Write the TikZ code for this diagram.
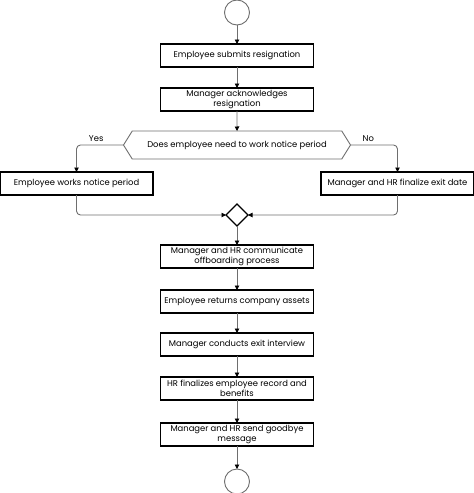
\documentclass[tikz,border=0pt]{standalone}
\usepackage{fontspec}
\setmainfont{Poppins}
\usetikzlibrary{positioning, arrows.meta, shapes.geometric, shapes.symbols}
\definecolor{lineGray}{HTML}{6E6E6E}
\tikzset{
  every node/.style={font=\fontsize{8.4}{9.6}\selectfont},
  flow/.style={draw=lineGray, line width=0.9pt, -{Triangle[black, length=4.5pt, width=4.5pt]}},
  stepbox/.style={draw, line width=1.3pt, minimum width=153pt, minimum height=23pt,
                  inner sep=1.5pt, outer sep=0pt, align=center},
  endpt/.style={draw=lineGray, circle, line width=0.9pt, minimum size=25pt, inner sep=0pt, outer sep=0pt},
  choice/.style={draw=lineGray, line width=0.9pt, signal, signal to=west and east, outer sep=0pt,
                 signal pointer angle=116, minimum width=227pt, minimum height=28pt, inner sep=0pt},
  merge/.style={draw, diamond, line width=1.3pt, minimum width=22pt, minimum height=22pt,
                inner sep=0pt, outer sep=0pt},
}

\begin{document}
\begin{tikzpicture}[x=1pt, y=1pt, node distance=20pt]
  \useasboundingbox (0,0) rectangle (474,-493);
  \node[endpt] (start) at (237,-12.5) {};
  \node[stepbox, below=19pt of start] (submit) {Employee submits resignation};
  \node[stepbox, below=21pt of submit] (ack) {Manager acknowledges\\resignation};
  \node[choice, below=of ack] (notice) {Does employee need to work notice period};
  % branches
  \node[stepbox, anchor=north west] (works) at (0,-172) {Employee works notice period};
  \node[stepbox, anchor=north east] (exitdate) at (474,-172) {Manager and HR finalize exit date};
  \node[merge, below=45pt of notice] (join) {};
  \node[stepbox, below=19pt of join] (comm) {Manager and HR communicate\\offboarding process};
  \node[stepbox, below=22pt of comm] (assets) {Employee returns company assets};
  \node[stepbox, below=of assets] (interview) {Manager conducts exit interview};
  \node[stepbox, below=21pt of interview] (record) {HR finalizes employee record and\\benefits};
  \node[stepbox, below=23pt of record] (goodbye) {Manager and HR send goodbye\\message};
  \node[endpt, below=23pt of goodbye] (stop) {};
  \draw[flow] (start) -- (submit);
  \draw[flow] (submit) -- (ack);
  \draw[flow] (ack) -- (notice);
  \draw[flow, rounded corners=4pt] (notice.west) -| node[pos=0.29, above] {Yes} (works.north);
  \draw[flow, rounded corners=4pt] (notice.east) -| node[pos=0.19, above] {No} (exitdate.north);
  \draw[flow, rounded corners=4pt] (works.south) |- (join.west);
  \draw[flow, rounded corners=4pt] (exitdate.south) |- (join.east);
  \draw[flow] (join) -- (comm);
  \draw[flow] (comm) -- (assets);
  \draw[flow] (assets) -- (interview);
  \draw[flow] (interview) -- (record);
  \draw[flow] (record) -- (goodbye);
  \draw[flow] (goodbye) -- (stop);
\end{tikzpicture}
\end{document}
